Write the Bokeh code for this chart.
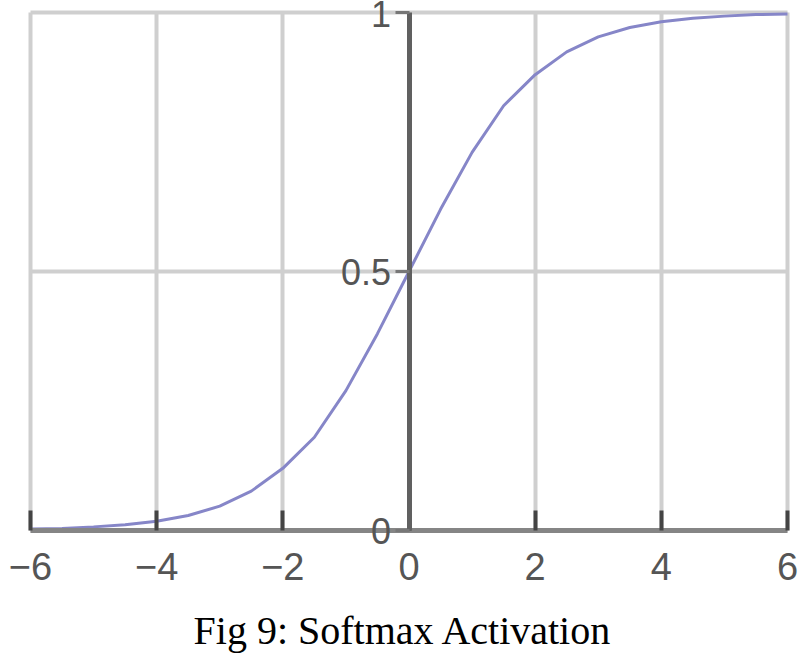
from bokeh.plotting import figure
from bokeh.models import LinearAxis, FixedTicker, Title, Grid
from bokeh.embed import file_html
from bokeh.resources import INLINE

# curve values
x_values = [-6.0, -5.5, -5.0, -4.5, -4.0, -3.5, -3.0, -2.5, -2.0, -1.5, -1.0, -0.5,
            0.0, 0.5, 1.0, 1.5, 2.0, 2.5, 3.0, 3.5, 4.0, 4.5, 5.0, 5.5, 6.0]
y_values = [0.003, 0.004, 0.007, 0.011, 0.018, 0.029, 0.047, 0.076, 0.12, 0.18, 0.27, 0.38,
            0.5, 0.62, 0.73, 0.82, 0.88, 0.924, 0.953, 0.971, 0.982, 0.989, 0.993, 0.996, 0.997]

x_ticks = [-6, -4, -2, 0, 2, 4, 6]
x_tick_labels = ["\u22126", "\u22124", "\u22122", "0", "2", "4", "6"]
y_ticks = [0, 0.5, 1]
y_tick_labels = ["0", "0.5", "1"]
caption = "Fig 9: Softmax Activation"

# layout (pixels): data box x -6..6 -> 30..787, y 0..1 -> 530..12; frame 805 x 600
W, H, FRAME_H = 805, 664, 600
PX_LEFT, PX_RIGHT, PX_TOP, PX_ZERO = 30, 787, 12, 530
sx = (PX_RIGHT - PX_LEFT) / (x_ticks[-1] - x_ticks[0])
sy = (PX_ZERO - PX_TOP) / (y_ticks[-1] - y_ticks[0])
X_START = x_ticks[0] - PX_LEFT / sx
X_END = x_ticks[-1] + (W - PX_RIGHT) / sx
Y_END = y_ticks[-1] + PX_TOP / sy
Y_START = y_ticks[0] - (FRAME_H - PX_ZERO) / sy

p = figure(width=W, height=H, x_range=(X_START, X_END), y_range=(Y_START, Y_END),
           output_backend="svg", toolbar_location=None,
           x_axis_location=None, y_axis_location=None,
           min_border_left=0, min_border_right=0, min_border_top=0,
           min_border_bottom=H - FRAME_H)
p.outline_line_color = None
p.background_fill_color = "white"
p.grid.visible = False

GRID_COLOR = "#cfcfcf"
xg = Grid(dimension=0, ticker=FixedTicker(ticks=x_ticks),
          grid_line_color=GRID_COLOR, grid_line_width=4)
yg = Grid(dimension=1, ticker=FixedTicker(ticks=y_ticks),
          grid_line_color=GRID_COLOR, grid_line_width=4)
if "cross_bounds" in Grid.properties():
    xg.cross_bounds = (y_ticks[0], y_ticks[-1])
    yg.cross_bounds = (x_ticks[0], x_ticks[-1])
    p.add_layout(xg)
    p.add_layout(yg)
else:
    p.segment(x0=x_ticks, y0=[y_ticks[0]] * len(x_ticks), x1=x_ticks,
              y1=[y_ticks[-1]] * len(x_ticks), line_color=GRID_COLOR, line_width=4)
    p.segment(x0=[x_ticks[0]] * len(y_ticks), y0=y_ticks,
              x1=[x_ticks[-1]] * len(y_ticks), y1=y_ticks,
              line_color=GRID_COLOR, line_width=4)

# x axis at y=0
xa = LinearAxis(fixed_location=0, ticker=FixedTicker(ticks=x_ticks),
                bounds=(x_ticks[0], x_ticks[-1]))
xa.major_label_overrides = {t: l for t, l in zip(x_ticks, x_tick_labels)}
xa.major_tick_in = 20
xa.major_tick_out = 0
xa.major_tick_line_color = "#444444"
xa.major_tick_line_width = 4
xa.minor_tick_line_color = None
xa.axis_line_color = "#858585"
xa.axis_line_width = 5
xa.major_label_standoff = 22
xa.major_label_text_font = "Liberation Sans"
xa.major_label_text_font_size = "38px"
xa.major_label_text_color = "#555555"
p.add_layout(xa, "below")

# y axis at x=0
ya = LinearAxis(fixed_location=0, ticker=FixedTicker(ticks=y_ticks),
                bounds=(y_ticks[0], y_ticks[-1]))
ya.major_label_overrides = {t: l for t, l in zip(y_ticks, y_tick_labels)}
ya.major_tick_in = 0
ya.major_tick_out = 14
ya.major_tick_line_color = "#777777"
ya.major_tick_line_width = 3
ya.minor_tick_line_color = None
ya.axis_line_color = "#606060"
ya.axis_line_width = 5
ya.major_label_standoff = 4
ya.major_label_text_font = "Liberation Sans"
ya.major_label_text_font_size = "36px"
ya.major_label_text_color = "#555555"
p.add_layout(ya, "left")

p.line(x_values, y_values, line_color="#8686c8", line_width=3)

p.add_layout(Title(text=caption, align="center", text_font="Liberation Serif",
                   text_font_size="40px", text_font_style="normal",
                   text_color="#000000", standoff=10), "below")

open("out.html", "w").write(file_html(p, INLINE))
